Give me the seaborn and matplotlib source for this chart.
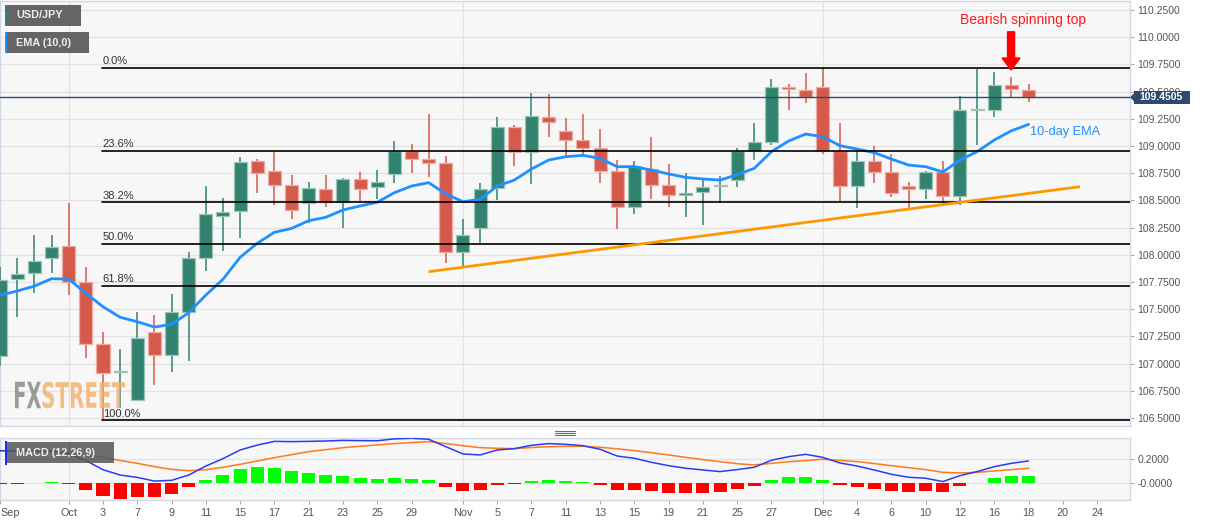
import numpy as np
import pandas as pd
import matplotlib
matplotlib.use("Agg")
import matplotlib.pyplot as plt
import seaborn as sns
from matplotlib.patches import Rectangle, Polygon, FancyArrow, PathPatch
from matplotlib.textpath import TextPath
from matplotlib.font_manager import FontProperties
from matplotlib.transforms import Affine2D
from matplotlib.lines import Line2D
from matplotlib.ticker import FuncFormatter

# ---------------- data ----------------
dates = pd.bdate_range("2019-09-25", "2019-12-31")

open_ = [107.07, 107.775, 107.835, 107.968, 108.078, 107.747, 107.18, 106.92, 106.665, 107.29,
         107.079, 107.477, 107.973, 108.36, 108.405, 108.86, 108.767, 108.642, 108.479, 108.605,
         108.488, 108.694, 108.62, 108.745, 108.951, 108.88, 108.847, 108.028, 108.243, 108.614,
         109.177, 108.945, 109.269, 109.135, 109.052, 108.984, 108.77, 108.437, 108.786, 108.639,
         108.553, 108.574, 108.63, 108.685, 108.957, 109.04, 109.542, 109.515, 109.542, 108.954,
         108.635, 108.865, 108.758, 108.63, 108.602, 108.761, 108.54, 109.33, 109.331, 109.558,
         109.515]
high = [107.89, 107.968, 108.179, 108.179, 108.473, 107.89, 107.293, 107.13, 107.47, 107.447,
        107.637, 108.023, 108.632, 108.52, 108.896, 108.878, 108.942, 108.73, 108.669, 108.73,
        108.709, 108.761, 108.777, 109.043, 109.018, 109.291, 108.905, 108.326, 108.657, 109.264,
        109.19, 109.484, 109.475, 109.255, 109.294, 109.153, 108.871, 108.862, 109.08, 108.837,
        108.749, 108.687, 108.727, 108.979, 109.209, 109.616, 109.57, 109.668, 109.72, 109.209,
        108.963, 109.0, 108.926, 108.672, 108.77, 108.86, 109.46, 109.705, 109.68, 109.634,
        109.57]
low = [106.98, 107.426, 107.652, 107.83, 107.63, 107.05, 106.48, 106.59, 106.66, 106.80,
       106.926, 107.027, 107.85, 108.035, 108.15, 108.565, 108.458, 108.326, 108.29, 108.437,
       108.243, 108.488, 108.51, 108.657, 108.749, 108.712, 107.922, 107.885, 108.106, 108.501,
       108.816, 108.648, 109.08, 108.902, 108.917, 108.657, 108.234, 108.372, 108.51, 108.442,
       108.345, 108.271, 108.473, 108.626, 108.871, 109.012, 109.328, 109.392, 108.924, 108.488,
       108.427, 108.657, 108.534, 108.427, 108.51, 108.473, 108.458, 109.006, 109.269, 109.438,
       109.407]
close = [107.77, 107.824, 107.943, 108.069, 107.753, 107.177, 106.916, 106.93, 107.238, 107.082,
         107.474, 107.968, 108.378, 108.396, 108.856, 108.755, 108.644, 108.412, 108.61, 108.488,
         108.694, 108.605, 108.666, 108.957, 108.88, 108.847, 108.023, 108.179, 108.608, 109.177,
         108.945, 109.273, 109.218, 109.052, 108.984, 108.77, 108.437, 108.813, 108.639, 108.553,
         108.571, 108.623, 108.636, 108.957, 109.037, 109.542, 109.521, 109.453, 108.957, 108.635,
         108.865, 108.764, 108.571, 108.605, 108.758, 108.54, 109.331, 109.34, 109.563, 109.521,
         109.4505]
ema10 = [107.63, 107.667, 107.713, 107.78, 107.777, 107.646, 107.523, 107.426, 107.385, 107.336,
         107.361, 107.468, 107.63, 107.775, 107.977, 108.106, 108.207, 108.243, 108.313, 108.345,
         108.412, 108.449, 108.483, 108.571, 108.632, 108.663, 108.56, 108.488, 108.51, 108.632,
         108.687, 108.789, 108.871, 108.902, 108.914, 108.887, 108.81, 108.81, 108.779, 108.743,
         108.712, 108.697, 108.687, 108.736, 108.795, 108.948, 109.046, 109.11, 109.085, 109.003,
         108.972, 108.939, 108.88, 108.825, 108.81, 108.761, 108.871, 108.948, 109.055, 109.14,
         109.199]
macd_line = [0.264, 0.264, 0.264, 0.262, 0.24, 0.185, 0.11, 0.067, 0.048, 0.018,
             0.024, 0.067, 0.14, 0.2, 0.27, 0.31, 0.34, 0.338, 0.34, 0.343,
             0.348, 0.346, 0.345, 0.36, 0.365, 0.357, 0.297, 0.238, 0.23, 0.27,
             0.281, 0.308, 0.322, 0.316, 0.305, 0.276, 0.221, 0.203, 0.17, 0.143,
             0.122, 0.108, 0.095, 0.111, 0.13, 0.187, 0.216, 0.235, 0.21, 0.165,
             0.14, 0.108, 0.073, 0.049, 0.041, 0.014, 0.062, 0.095, 0.135, 0.162,
             0.181]
signal_line = [0.264, 0.262, 0.26, 0.255, 0.245, 0.23, 0.21, 0.185, 0.162, 0.135,
               0.113, 0.102, 0.11, 0.13, 0.154, 0.18, 0.208, 0.232, 0.257, 0.273,
               0.289, 0.3, 0.311, 0.322, 0.33, 0.338, 0.322, 0.305, 0.289, 0.284,
               0.281, 0.29, 0.297, 0.3, 0.3, 0.292, 0.28, 0.265, 0.248, 0.23,
               0.21, 0.192, 0.175, 0.159, 0.149, 0.162, 0.175, 0.184, 0.195, 0.186,
               0.176, 0.16, 0.143, 0.127, 0.111, 0.089, 0.084, 0.089, 0.1, 0.111,
               0.122]
macd_hist = [-0.008, -0.008, 0.0, 0.008, -0.008, -0.054, -0.10, -0.125, -0.114, -0.114,
             -0.087, -0.033, 0.029, 0.067, 0.116, 0.132, 0.127, 0.10, 0.086, 0.067,
             0.059, 0.046, 0.035, 0.043, 0.037, 0.027, -0.033, -0.065, -0.057, -0.014,
             -0.006, 0.019, 0.027, 0.019, 0.008, -0.016, -0.057, -0.054, -0.065, -0.076,
             -0.081, -0.076, -0.068, -0.044, -0.022, 0.024, 0.049, 0.054, 0.024, -0.016,
             -0.03, -0.044, -0.065, -0.073, -0.062, -0.073, -0.024, 0.005, 0.043, 0.057,
             0.059]

tick_dates = ["2019-09-25", "2019-10-01", "2019-10-03", "2019-10-07", "2019-10-09", "2019-10-11",
              "2019-10-15", "2019-10-17", "2019-10-21", "2019-10-23", "2019-10-25", "2019-10-29",
              "2019-11-01", "2019-11-05", "2019-11-07", "2019-11-11", "2019-11-13", "2019-11-15",
              "2019-11-19", "2019-11-21", "2019-11-25", "2019-11-27", "2019-12-02", "2019-12-04",
              "2019-12-06", "2019-12-10", "2019-12-12", "2019-12-16", "2019-12-18", "2019-12-20",
              "2019-12-24"]
tick_labels = ["Sep", "Oct", "3", "7", "9", "11", "15", "17", "21", "23", "25", "29", "Nov", "5",
               "7", "11", "13", "15", "19", "21", "25", "27", "Dec", "4", "6", "10", "12", "16",
               "18", "20", "24"]
month_dates = ["2019-10-01", "2019-11-01", "2019-12-02"]

fib_high, fib_low = 109.72, 106.48
fib_levels = [0.0, 0.236, 0.382, 0.5, 0.618, 1.0]
fib_labels = ["0.0%", "23.6%", "38.2%", "50.0%", "61.8%", "100.0%"]
fib_start_date = "2019-10-03"

trend_dates = ["2019-10-30", "2019-12-23"]
trend_prices = [107.845, 108.626]

last_price = 109.4505
price_ticks = [106.5, 106.75, 107.0, 107.25, 107.5, 107.75, 108.0, 108.25, 108.5, 108.75,
               109.0, 109.25, 109.5, 109.75, 110.0, 110.25]

# ---------------- style ----------------
sns.set_theme(style="white")
plt.rcParams["font.family"] = ["Liberation Sans", "DejaVu Sans"]

W, H = 1207, 526
fig = plt.figure(figsize=(W / 100, H / 100), dpi=100)
fig.patch.set_facecolor("white")

def fx(x):
    return x / W

def fy(y):
    return 1 - y / H

pos = {d.strftime("%Y-%m-%d"): i for i, d in enumerate(dates)}
n = len(close)
idx = np.arange(n)

ax = fig.add_axes([0, fy(426), fx(1130), 425 / H])
axm = fig.add_axes([0, fy(500.3), fx(1130), 62.6 / H])

SPINE = "#d3d8e6"
BG = "#f7f7f7"
GRID = "#e3e3e3"
for a in (ax, axm):
    a.set_facecolor(BG)
    for s in a.spines.values():
        s.set_color(SPINE)
        s.set_linewidth(1)
    a.set_xlim(-0.01, 65.92)
    for md in month_dates:
        a.axvline(pos[md], color=GRID, lw=1, zorder=0)

# ---------------- main panel ----------------
ax.set_ylim(106.4265, 110.333)
ax.set_yticks(price_ticks)
ax.yaxis.tick_right()
ax.yaxis.set_major_formatter(FuncFormatter(lambda v, p: f"{v:.4f}"))
ax.tick_params(axis="y", right=True, left=False, length=3, width=0.8, color="#a8a8a8",
               labelsize=7.5, labelcolor="#555555", pad=2.5)
ax.tick_params(axis="x", bottom=False, labelbottom=False)
for t in price_ticks:
    ax.axhline(t, color=GRID, lw=1, zorder=0)

GREEN, RED = "#31826e", "#d65a4b"
GREEN_E, RED_E = "#9cc5b9", "#efaaa1"
o = np.array(open_); c = np.array(close)
up = c >= o
cols = np.where(up, GREEN, RED)
edges = np.where(up, GREEN_E, RED_E)
bottoms = np.minimum(o, c)
heights = np.maximum(np.abs(c - o), 0.012)
ax.vlines(idx, low, high, colors=cols, lw=1.1, zorder=3)
ax.bar(idx, heights, bottom=bottoms, width=0.76, color=cols, edgecolor=edges,
       linewidth=0.9, zorder=4)

sns.lineplot(x=idx, y=ema10, ax=ax, color="#1e90ff", linewidth=2.0, zorder=5, legend=False)

# fibonacci
fs = pos[fib_start_date] - 0.06
for lv, lab in zip(fib_levels, fib_labels):
    p = fib_high - lv * (fib_high - fib_low)
    ax.plot([fs, 65.92], [p, p], color="black", lw=1.2, zorder=6)
    ax.annotate(lab, (fs, p), xytext=(0.5, 1.2), textcoords="offset points",
                fontsize=8, color="#333333", ha="left", va="bottom", zorder=7)

# trend line
ax.plot([pos[d] for d in trend_dates], trend_prices, color="#ff9800", lw=2, zorder=6,
        solid_capstyle="butt")

# current price line
ax.axhline(last_price, color="#2e4a6e", lw=1.0, zorder=6)

# annotations
ax.text(59.7, 110.158, "Bearish spinning top", color="#ff1a1a", fontsize=10,
        ha="center", va="center", zorder=8)
ax.add_patch(FancyArrow(58.98, 110.05, 0, -0.351, width=0.41, head_width=1.05,
                        head_length=0.11, length_includes_head=True, color="#ff0000",
                        zorder=8))
ax.text(60.08, 109.131, "10-day EMA", color="#1e90ff", fontsize=9.2, ha="left",
        va="center", zorder=8)
ax.set_xlabel(""); ax.set_ylabel("")

# ---------------- MACD panel ----------------
axm.set_ylim(-0.1379, 0.3698)
axm.set_yticks([0.0, 0.2])
axm.yaxis.tick_right()
axm.set_yticklabels(["-0.0000", "0.2000"])
axm.tick_params(axis="y", right=True, left=False, length=3, width=0.8, color="#a8a8a8",
                labelsize=7.5, labelcolor="#555555", pad=2.5)
for t in (0.0, 0.2):
    axm.axhline(t, color=GRID, lw=1, zorder=0)
hist = np.array(macd_hist)
hcols = np.where(hist >= 0, "#00ff00", "#ff0000")
axm.bar(idx, hist, width=0.76, color=hcols, linewidth=0, zorder=3)
sns.lineplot(x=idx, y=signal_line, ax=axm, color="#ff7a1a", linewidth=1.1, zorder=4, legend=False)
sns.lineplot(x=idx, y=macd_line, ax=axm, color="#2a3cf0", linewidth=1.1, zorder=5, legend=False)
axm.set_xticks([pos[d] for d in tick_dates])
axm.set_xticklabels(tick_labels)
axm.tick_params(axis="x", bottom=True, length=3, width=0.8, color="#a8a8a8",
                labelsize=7.8, labelcolor="#555555", pad=2.5)
axm.get_xticklabels()[0].set_horizontalalignment("left")
axm.set_xlabel(""); axm.set_ylabel("")

# ---------------- overlays in figure pixels ----------------
def box(x0, y0, x1, y1, fc, alpha=1.0, z=10):
    fig.add_artist(Rectangle((fx(x0), fy(y1)), fx(x1) - fx(x0), fy(y0) - fy(y1),
                             transform=fig.transFigure, fc=fc, ec="none", alpha=alpha,
                             zorder=z))

box(5, 5, 81, 26, "#5a5a5a", 0.93)
box(5, 5, 7, 26, "#31826e")
fig.text(fx(16), fy(15.5), "USD/JPY", color="#eeeeee", fontsize=7.8, fontweight="bold",
         ha="left", va="center", zorder=11)
box(5, 32, 89, 53, "#5a5a5a", 0.93)
box(5, 32, 7, 53, "#1e90ff")
fig.text(fx(16), fy(42.5), "EMA (10,0)", color="#eeeeee", fontsize=7.8, fontweight="bold",
         ha="left", va="center", zorder=11)
box(5, 442, 114, 462.7, "#555555", 0.85)
box(5, 440.7, 7, 465, "#1a2cff")
fig.text(fx(16), fy(452.5), "MACD (12,26,9)", color="#eeeeee", fontsize=7.8,
         fontweight="bold", ha="left", va="center", zorder=11)

# last price tag
box(1133.5, 90.7, 1189.5, 104, "#2e4a6e", z=12)
fig.add_artist(Polygon([(fx(1130), fy(97.3)), (fx(1134), fy(93.3)), (fx(1134), fy(101.3))],
                       closed=True, transform=fig.transFigure, fc="#2e4a6e", ec="none",
                       zorder=12))
fig.text(fx(1161.5), fy(97.3), f"{last_price:.4f}", color="white", fontsize=7.5,
         fontweight="bold", ha="center", va="center", zorder=13)

# grip between panels
for yy in (431, 433, 435):
    fig.add_artist(Line2D([fx(555), fx(575)], [fy(yy), fy(yy)], transform=fig.transFigure,
                          color="#6a6a6a", lw=0.8, zorder=10))

# watermark
def logo(text, color, x0, x1, ytop, ybot, alpha):
    fp = FontProperties(family="DejaVu Sans", weight="bold")
    tp = TextPath((0, 0), text, size=1, prop=fp)
    ext = tp.get_extents()
    sx = (x1 - x0) / ext.width
    sy = (ybot - ytop) / ext.height
    tr = Affine2D().translate(-ext.x0, -ext.y0).scale(sx, sy).translate(x0, H - ybot)
    fig.add_artist(PathPatch(tp, transform=tr, fc=color, ec="none", alpha=alpha, zorder=9))

logo("FX", "#8b8b8b", 15, 41, 381.7, 408.3, 0.85)
logo("STREET", "#f2b06a", 42.5, 125, 381.7, 408.3, 0.8)

fig.savefig("out.png", dpi=100, facecolor="white")
